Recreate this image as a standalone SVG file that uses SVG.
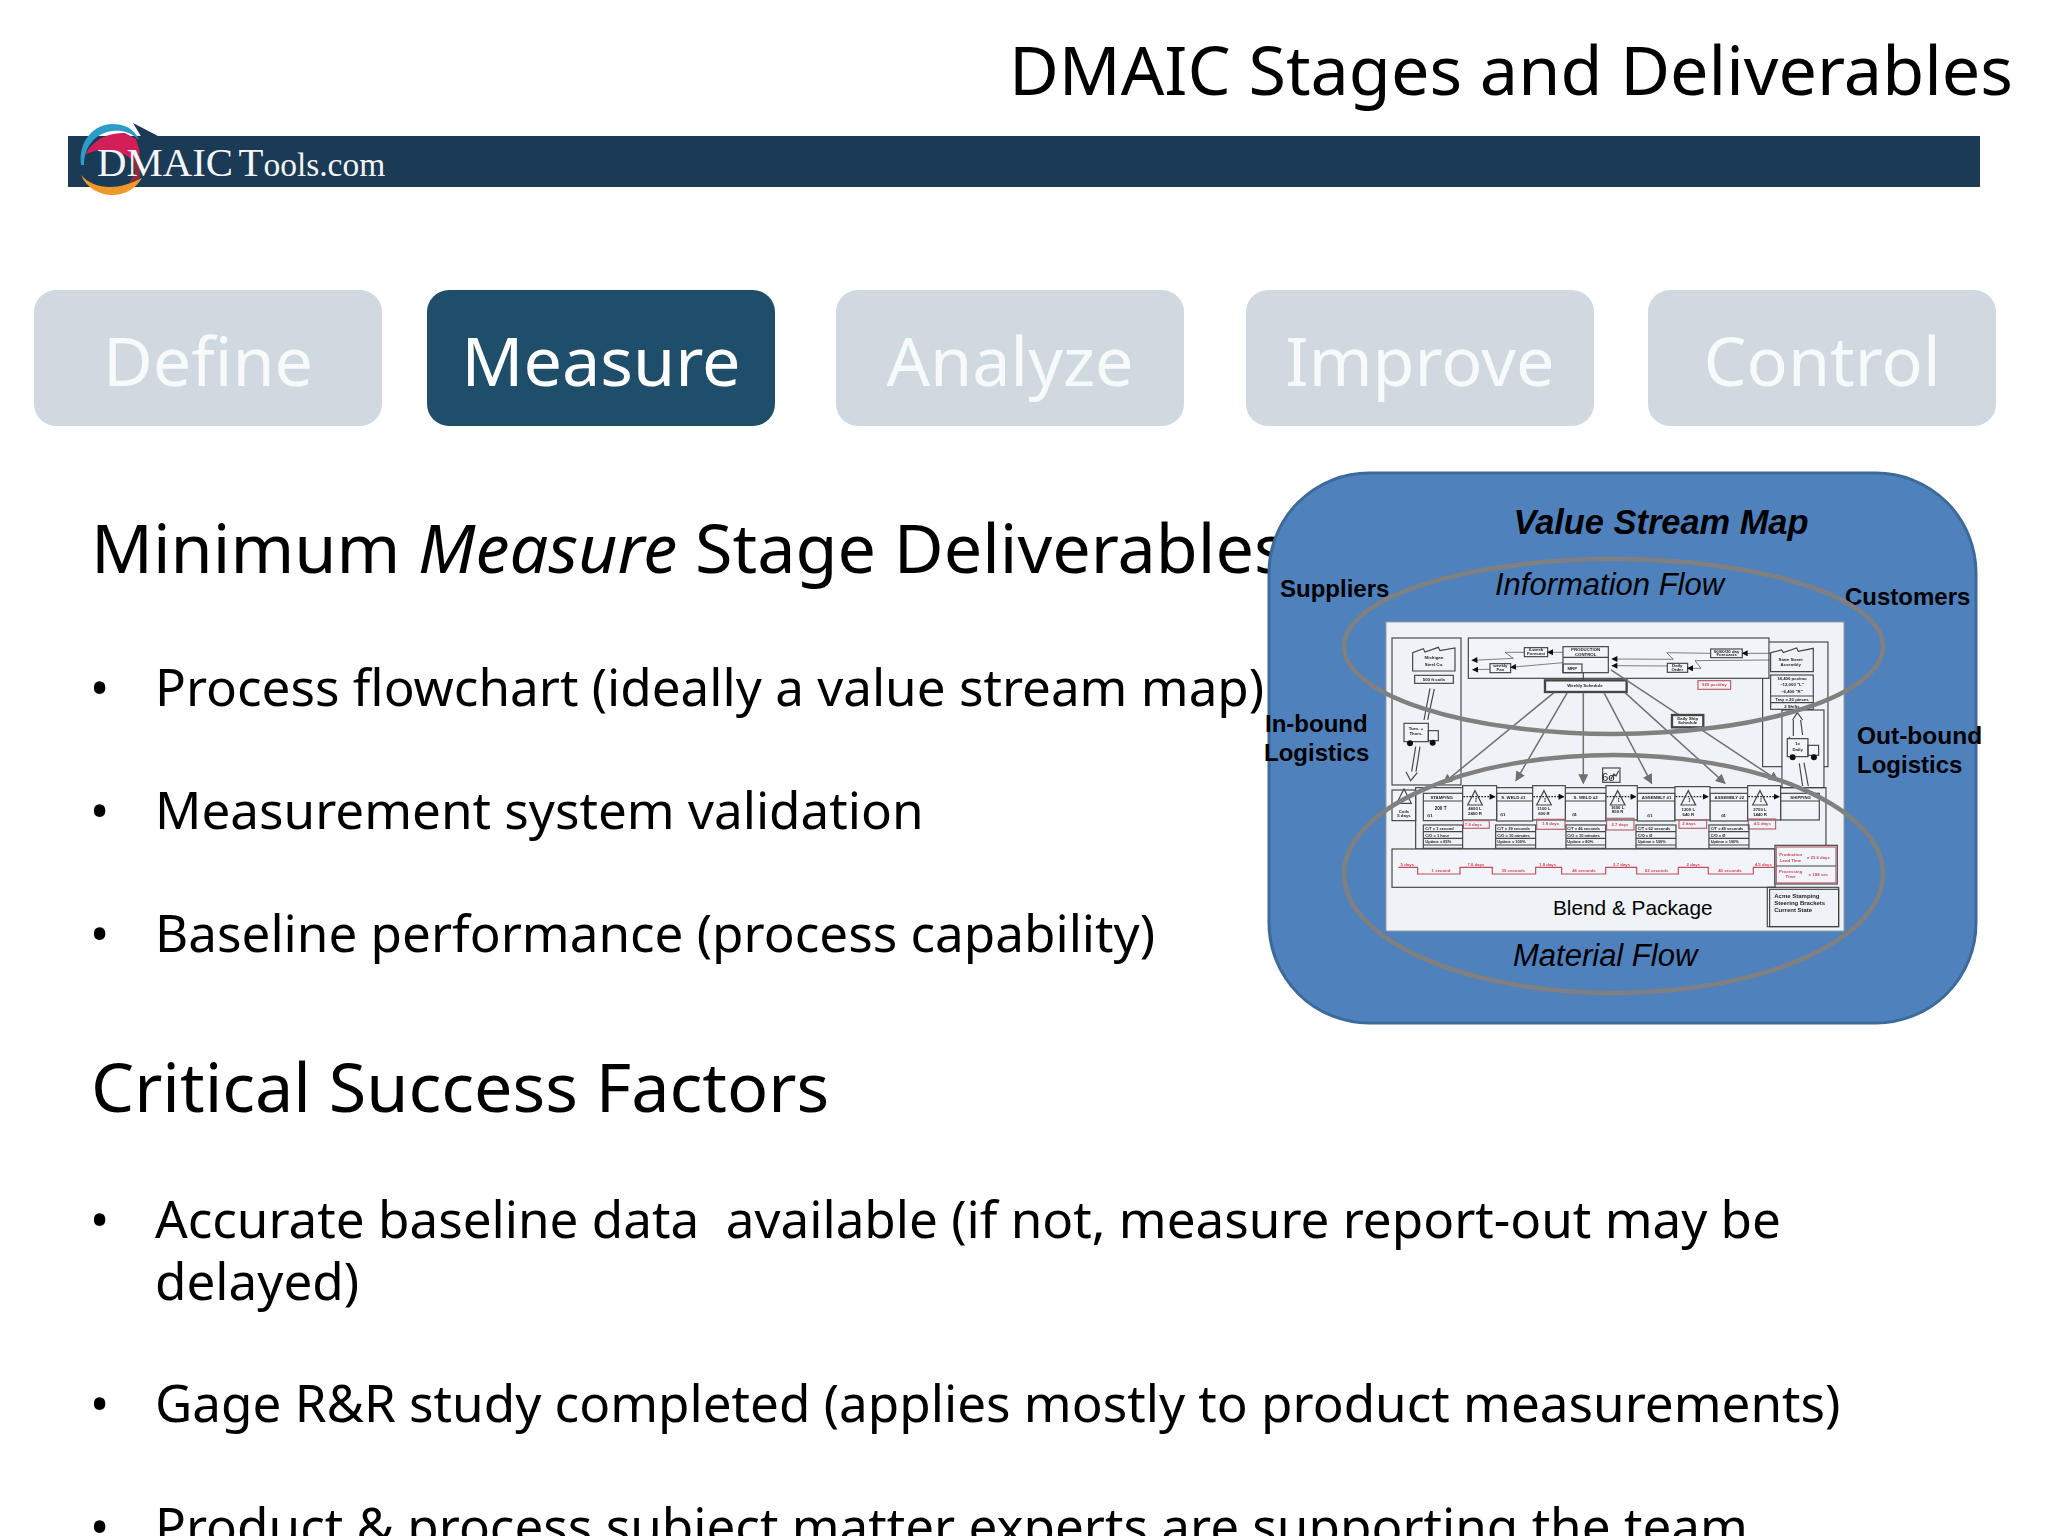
<svg xmlns="http://www.w3.org/2000/svg" width="2048" height="1536" viewBox="0 0 2048 1536">
<defs>
<style>
text{font-family:"Noto Sans","Open Sans",sans-serif}
.h{font-size:68.3px;fill:#000}
.b{font-size:51.2px;fill:#000}
.btn{font-size:68.3px;text-anchor:middle;fill:#f7fafb}
.g{fill:#cfd9df}
.a{font-family:"Liberation Sans",Arial,sans-serif;fill:#000}
.ab{font-family:"Liberation Sans",Arial,sans-serif;font-weight:bold;font-size:24px;fill:#000}
.ai{font-family:"Liberation Sans",Arial,sans-serif;font-style:italic;font-size:31px;fill:#000}
.v rect,.v path.o,.v polygon.o{fill:none;stroke:#444;stroke-width:3.5}
.v line,.v polyline{fill:none;stroke:#444;stroke-width:3.5}
.v rect.f{fill:#f1f4f8}
.v rect.t{stroke-width:7}
.v text{font-family:"Liberation Sans",Arial,sans-serif;font-size:13px;font-weight:bold;fill:#222;text-anchor:middle}
.v text.s{font-size:12px;text-anchor:start}
.v text.r{fill:#d0485c}
.v rect.r{stroke:#b9606c}
.v polyline.r{stroke:#c8485c}
.v line.m{stroke:#707070;stroke-width:4.5;marker-end:url(#ga)}
.v line.k{stroke:#222;stroke-width:4;stroke-dasharray:5 4;marker-end:url(#ka)}
.v line.w{stroke:#222;stroke-width:2;marker-end:url(#ka)}
.v polyline.w{stroke:#444;stroke-width:2;marker-end:url(#ka)}
.v circle{fill:#111}
</style>
<marker id="ga" viewBox="0 0 10 10" refX="9" refY="5" markerUnits="userSpaceOnUse" markerWidth="30" markerHeight="30" orient="auto"><path d="M0 0L10 5L0 10Z" fill="#707070"/></marker>
<marker id="ka" viewBox="0 0 10 10" refX="9" refY="5" markerUnits="userSpaceOnUse" markerWidth="20" markerHeight="18" orient="auto"><path d="M0 0L10 5L0 10Z" fill="#111"/></marker>
<filter id="soft" x="-2%" y="-2%" width="104%" height="104%"><feGaussianBlur stdDeviation="1"/></filter>
<g id="inv"><polygon class="o" points="0,55 22,12 44,55" fill="none" stroke="#444" stroke-width="3.5"/><text x="22" y="47" style="font-size:18px">I</text></g>
</defs>
<rect width="2048" height="1536" fill="#fff"/>
<text id="title" x="2013" y="95" class="h" text-anchor="end">DMAIC Stages and Deliverables</text>
<g id="banner">
<rect x="68" y="136" width="1912" height="51" fill="#1a3a55"/>
<path d="M133 123L158 136L140 150L142 138Z" fill="#1a3a55"/>
<path d="M81 165C78 140 95 124 112 124C124 124 134 128 139 140C130 131 120 130 112 131C96 133 84 146 84 165Z" fill="#2c9cc8"/>
<path d="M85 155C95 137 110 133 125 133L136 139L140 153L132 160C125 152 110 150 100 150C95 151 90 152 85 155Z" fill="#d21f58"/>
<path d="M132 160L140 155L140 178L128 185L135 172Z" fill="#8e2a3a"/>
<path d="M81 175C86 188 100 195 112 195C126 195 136 188 142 178C130 184 120 187 110 187C98 187 88 183 81 175Z" fill="#f0982a"/>
<text x="97" y="175.500" style="font-family:'Liberation Serif',serif;font-size:40.800px;fill:#f3f5f6">DMAIC <tspan dx="-4">T</tspan><tspan style="font-size:33.500px">ools.com</tspan></text>
</g>
<g id="define"><rect class="g" x="34" y="290" width="348" height="136" rx="22"/><text class="btn" x="208" y="386">Define</text></g>
<g id="measure"><rect x="427" y="290" width="348" height="136" rx="22" fill="#1f4e6b"/><text class="btn" x="601" y="386" style="fill:#fff">Measure</text></g>
<g id="analyze"><rect class="g" x="836" y="290" width="348" height="136" rx="22"/><text class="btn" x="1010" y="386">Analyze</text></g>
<g id="improve"><rect class="g" x="1246" y="290" width="348" height="136" rx="22"/><text class="btn" x="1420" y="386">Improve</text></g>
<g id="control"><rect class="g" x="1648" y="290" width="348" height="136" rx="22"/><text class="btn" x="1822" y="386">Control</text></g>
<g id="deliverables">
<text class="h" x="91" y="573">Minimum <tspan font-style="italic">Measure</tspan> Stage Deliverables</text>
<text class="b" x="90" y="706">•</text><text class="b" x="155" y="706">Process flowchart (ideally a value stream map)</text>
<text class="b" x="90" y="829">•</text><text class="b" x="155" y="829">Measurement system validation</text>
<text class="b" x="90" y="952">•</text><text class="b" x="155" y="952">Baseline performance (process capability)</text>
</g>
<g id="factors">
<text class="h" x="91" y="1112">Critical Success Factors</text>
<text class="b" x="90" y="1238">•</text><text class="b" x="155" y="1238" xml:space="preserve">Accurate baseline data  available (if not, measure report-out may be</text>
<text class="b" x="155" y="1300">delayed)</text>
<text class="b" x="90" y="1422">•</text><text class="b" x="155" y="1422">Gage R&amp;R study completed (applies mostly to product measurements)</text>
<text class="b" x="90" y="1545">•</text><text class="b" x="155" y="1545">Product &amp; process subject matter experts are supporting the team</text>
</g>
<g id="vsm-panel">
<rect x="1269" y="473" width="707" height="550" rx="100" fill="#4f81bd" stroke="#3d6a9a" stroke-width="3"/>
<rect x="1386" y="622" width="458" height="309" fill="#eff3f8" stroke="#999" stroke-width="1"/>
<g class="v" transform="translate(1380 620) scale(.3333)" filter="url(#soft)">
<rect x="36" y="54" width="207" height="441"/>
<rect x="1148" y="66" width="196" height="374"/>
<rect class="f" x="265" y="54" width="902" height="121"/>
<rect class="f" x="1206" y="270" width="126" height="233"/>
<path class="o" d="M98 153V98L130 86L135 96L175 82L180 92L225 84V153Z"/>
<text x="162" y="118">Michigan</text><text x="162" y="137">Steel Co.</text>
<rect x="104" y="166" width="116" height="24"/><text x="162" y="182">500 ft coils</text>
<path class="o" d="M150 205L132 300M163 207L143 300M107 380L95 455M120 380L108 455M78 455L92 482L112 458"/>
<rect class="f" x="72" y="310" width="73" height="55"/><rect x="145" y="332" width="30" height="30"/>
<text x="108" y="330">Tues. +</text><text x="108" y="346">Thurs.</text>
<circle cx="90" cy="370" r="9"/><circle cx="158" cy="368" r="9"/>
<rect x="549" y="80" width="136" height="78"/><line x1="549" y1="112" x2="685" y2="112"/>
<rect x="549" y="132" width="57" height="26"/><text x="617" y="93">PRODUCTION</text><text x="617" y="107">CONTROL</text><text x="577" y="149">MRP</text>
<rect x="433" y="83" width="70" height="27"/><text x="468" y="94">6-week</text><text x="468" y="106">Forecast</text>
<polyline class="w" points="549,97 503,97"/><polyline class="w" points="433,97 375,97 400,115 276,121"/>
<rect x="330" y="131" width="62" height="27"/><text x="361" y="142">weekly</text><text x="361" y="154">Fax</text>
<polyline class="w" points="549,128 392,142"/><polyline class="w" points="330,148 278,149"/>
<rect x="992" y="87" width="95" height="26"/><text x="1040" y="98">90/60/30 day</text><text x="1040" y="109">Forecasts</text>
<polyline class="w" points="1170,100 1087,100"/><polyline class="w" points="992,100 860,98 880,118 696,117"/>
<rect x="862" y="130" width="61" height="27"/><text x="892" y="141">Daily</text><text x="892" y="153">Order</text>
<polyline class="w" points="1170,120 945,122 963,145 923,145"/><polyline class="w" points="862,138 696,137"/>
<path class="o" d="M1172 155V98L1205 90L1210 98L1250 84L1255 94L1300 85V155Z"/>
<text x="1232" y="122">State Street</text><text x="1232" y="138">Assembly</text>
<rect x="1172" y="165" width="128" height="103"/><line x1="1172" y1="228" x2="1300" y2="228"/><line x1="1172" y1="248" x2="1300" y2="248"/>
<text x="1236" y="180">18,400 pcs/mo</text><text x="1236" y="199">–12,000 "L"</text><text x="1236" y="218">–6,400 "R"</text><text x="1236" y="243">Tray = 20 pieces</text><text x="1236" y="263">2 Shifts</text>
<rect class="r" x="954" y="182" width="98" height="26"/><text class="r" x="1003" y="197">920 pcs/day</text>
<line x1="610" y1="158" x2="610" y2="181"/>
<rect class="f t" x="495" y="181" width="245" height="35"/><text x="615" y="202">Weekly Schedule</text>
<line class="m" x1="522" y1="218" x2="190" y2="490"/><line class="m" x1="562" y1="218" x2="408" y2="482"/><line class="m" x1="610" y1="218" x2="610" y2="490"/><line class="m" x1="672" y1="218" x2="815" y2="490"/><line class="m" x1="735" y1="218" x2="1035" y2="490"/><line class="m" x1="693" y1="150" x2="1195" y2="482"/>
<rect class="f t" x="876" y="285" width="94" height="37"/><text x="923" y="300">Daily Ship</text><text x="923" y="313">Schedule</text>
<path class="o" d="M1228 372V350M1238 300L1252 278L1268 300M1240 300V348M1262 300L1268 345M1272 428L1285 498M1258 430L1268 498"/>
<rect class="f" x="1222" y="356" width="62" height="54"/><rect x="1284" y="376" width="32" height="30"/>
<text x="1253" y="376">1x</text><text x="1253" y="392">Daily</text>
<circle cx="1238" cy="412" r="9"/><circle cx="1302" cy="412" r="9"/>
<rect x="668" y="444" width="52" height="43"/><text x="686" y="482" style="font-size:34px;font-weight:normal">6σ</text><polyline points="692,478 702,462 708,468 716,452"/>
<rect x="107" y="503" width="1231" height="184"/>
<rect class="f" x="36" y="510" width="71" height="92"/><use href="#inv" x="50" y="495"/><text x="72" y="578">Coils</text><text x="72" y="591">5 days</text>
<rect class="f" x="130" y="520" width="118" height="82"/><line x1="130" y1="543" x2="248" y2="543"/><text x="185" y="536">STAMPING</text><text x="182" y="570" style="font-size:14px">200 T</text><text x="150" y="592">⊙1</text>
<rect class="f" x="350" y="520" width="108" height="83"/><line x1="350" y1="543" x2="458" y2="543"/><text x="400" y="536">S. WELD #1</text><text x="368" y="588">⊙1</text>
<rect class="f" x="556" y="520" width="122" height="83"/><line x1="556" y1="543" x2="678" y2="543"/><text x="617" y="536">S. WELD #2</text><text x="583" y="588">⊙1</text>
<rect class="f" x="772" y="520" width="113" height="83"/><line x1="772" y1="543" x2="885" y2="543"/><text x="830" y="536">ASSEMBLY #1</text><text x="810" y="590">⊙1</text>
<rect class="f" x="990" y="520" width="113" height="83"/><line x1="990" y1="543" x2="1103" y2="543"/><text x="1048" y="536">ASSEMBLY #2</text><text x="1030" y="590">⊙1</text>
<rect class="f" x="1202" y="520" width="116" height="80"/><line x1="1202" y1="543" x2="1318" y2="543"/><text x="1262" y="536">SHIPPING</text>
<rect class="f" x="248" y="497" width="102" height="103"/><use href="#inv" x="263" y="500"/><line class="k" x1="250" y1="530" x2="345" y2="530"/><text x="285" y="570">4600 L</text><text x="285" y="584">2400 R</text>
<rect class="f" x="458" y="497" width="98" height="103"/><use href="#inv" x="470" y="500"/><line class="k" x1="460" y1="530" x2="552" y2="530"/><text x="492" y="570">1100 L</text><text x="492" y="584">600 R</text>
<rect class="f" x="678" y="497" width="94" height="103"/><use href="#inv" x="691" y="500"/><line class="k" x1="680" y1="530" x2="768" y2="530"/><text x="713" y="566">1600 L</text><text x="713" y="580">850 R</text>
<rect class="f" x="885" y="500" width="105" height="100"/><use href="#inv" x="903" y="500"/><line class="k" x1="887" y1="530" x2="985" y2="530"/><text x="925" y="574">1200 L</text><text x="925" y="588">640 R</text>
<rect class="f" x="1103" y="497" width="99" height="103"/><use href="#inv" x="1118" y="500"/><line class="k" x1="1105" y1="530" x2="1198" y2="530"/><text x="1140" y="574">2700 L</text><text x="1140" y="588">1440 R</text>
<rect class="r" x="250" y="602" width="78" height="23"/><text class="r" x="280" y="618">7.6 days</text>
<rect class="r" x="470" y="598" width="85" height="30"/><text class="r" x="512" y="615">1.8 days</text>
<rect class="r" x="680" y="595" width="82" height="35"/><text class="r" x="720" y="617">2.7 days</text>
<rect class="r" x="897" y="600" width="83" height="25"/><text class="r" x="927" y="616">2 days</text>
<rect class="r" x="1105" y="597" width="82" height="30"/><text class="r" x="1147" y="616">4.5 days</text>
<g>
<rect x="130" y="615" width="118" height="70"/><line x1="130" y1="635" x2="248" y2="635"/><line x1="130" y1="655" x2="248" y2="655"/><line x1="130" y1="675" x2="248" y2="675"/>
<text class="s" x="136" y="630">C/T = 1 second</text><text class="s" x="136" y="650">C/O = 1 hour</text><text class="s" x="136" y="670">Uptime = 85%</text>
<rect x="347" y="615" width="120" height="70"/><line x1="347" y1="635" x2="467" y2="635"/><line x1="347" y1="655" x2="467" y2="655"/><line x1="347" y1="675" x2="467" y2="675"/>
<text class="s" x="352" y="630">C/T = 39 seconds</text><text class="s" x="352" y="650">C/O = 10 minutes</text><text class="s" x="352" y="670">Uptime = 100%</text>
<rect x="558" y="615" width="119" height="70"/><line x1="558" y1="635" x2="677" y2="635"/><line x1="558" y1="655" x2="677" y2="655"/><line x1="558" y1="675" x2="677" y2="675"/>
<text class="s" x="562" y="630">C/T = 46 seconds</text><text class="s" x="562" y="650">C/O = 10 minutes</text><text class="s" x="562" y="670">Uptime = 80%</text>
<rect x="768" y="615" width="120" height="70"/><line x1="768" y1="635" x2="888" y2="635"/><line x1="768" y1="655" x2="888" y2="655"/><line x1="768" y1="675" x2="888" y2="675"/>
<text class="s" x="773" y="630">C/T = 62 seconds</text><text class="s" x="773" y="650">C/O = Ø</text><text class="s" x="773" y="670">Uptime = 100%</text>
<rect x="987" y="615" width="120" height="70"/><line x1="987" y1="635" x2="1107" y2="635"/><line x1="987" y1="655" x2="1107" y2="655"/><line x1="987" y1="675" x2="1107" y2="675"/>
<text class="s" x="992" y="630">C/T = 40 seconds</text><text class="s" x="992" y="650">C/O = Ø</text><text class="s" x="992" y="670">Uptime = 100%</text>
</g>
<rect class="f" x="36" y="687" width="1149" height="115"/>
<polyline class="r" points="55,742 113,742 113,762 240,762 240,742 337,742 337,762 467,762 467,742 545,742 545,762 677,762 677,742 770,742 770,762 895,762 895,742 985,742 985,762 1120,762 1120,742 1182,742"/>
<g>
<text class="r" x="82" y="739">5 days</text><text class="r" x="183" y="757">1 second</text><text class="r" x="288" y="739">7.6 days</text><text class="r" x="400" y="757">39 seconds</text><text class="r" x="503" y="739">1.8 days</text><text class="r" x="612" y="757">46 seconds</text><text class="r" x="725" y="739">2.7 days</text><text class="r" x="830" y="757">62 seconds</text><text class="r" x="940" y="739">2 days</text><text class="r" x="1050" y="757">40 seconds</text><text class="r" x="1150" y="739">4.5 days</text>
</g>
<rect class="f" x="1185" y="676" width="187" height="116"/><rect class="r" x="1189" y="681" width="179" height="108"/><line x1="1189" y1="738" x2="1368" y2="738"/>
<text class="r" x="1232" y="708">Production</text><text class="r" x="1232" y="725">Lead Time</text><text class="r" x="1315" y="716">= 23.6 days</text>
<text class="r" x="1232" y="758">Processing</text><text class="r" x="1232" y="775">Time</text><text class="r" x="1315" y="767">= 188 sec</text>
<rect x="1162" y="802" width="214" height="118"/><rect x="1169" y="808" width="207" height="112"/>
<text class="s" x="1183" y="833" style="font-size:18px">Acme Stamping</text><text class="s" x="1183" y="855" style="font-size:18px">Steering Brackets</text><text class="s" x="1183" y="877" style="font-size:18px">Current State</text>
</g>
<text class="a" x="1553" y="915" font-size="20.800">Blend &amp; Package</text>
<text class="a" x="1661" y="534" font-size="34.400" font-weight="bold" font-style="italic" text-anchor="middle">Value Stream Map</text>
<text class="ai" x="1495" y="595">Information Flow</text>
<text class="ai" x="1513" y="966">Material Flow</text>
<text class="ab" x="1280" y="597">Suppliers</text>
<text class="ab" x="1845" y="605">Customers</text>
<text class="ab" x="1265" y="732">In-bound</text>
<text class="ab" x="1264" y="761">Logistics</text>
<text class="ab" x="1857" y="744" style="font-size:24.500px">Out-bound</text>
<text class="ab" x="1857" y="773">Logistics</text>
<ellipse cx="1613.500" cy="646.500" rx="269.500" ry="87.500" fill="none" stroke="#808080" stroke-width="4.500"/>
<ellipse cx="1613.500" cy="874" rx="269.500" ry="119" fill="none" stroke="#808080" stroke-width="4.500"/>
</g>
</svg>
